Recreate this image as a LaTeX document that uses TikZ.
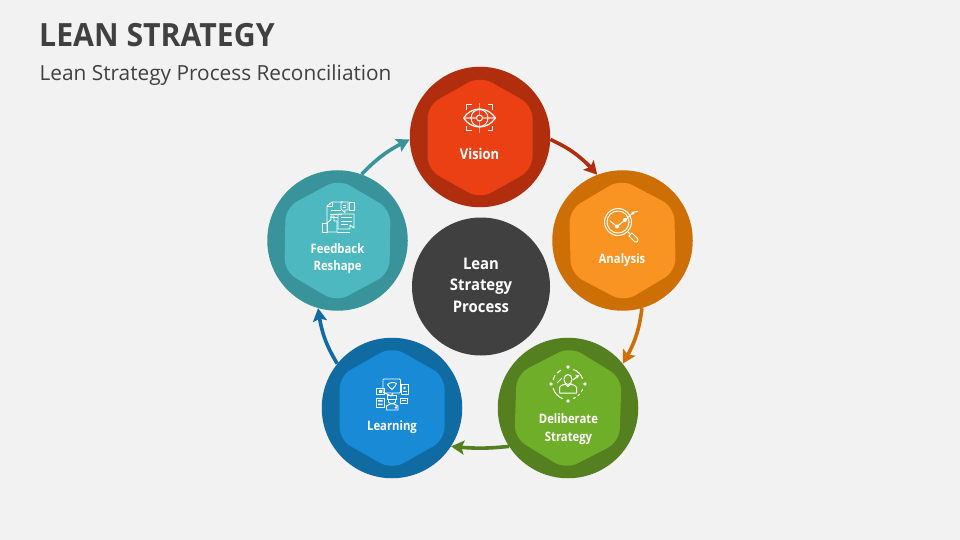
\documentclass[tikz,border=0pt]{standalone}
\usepackage{fontspec}
\setmainfont{Open Sans}
\newfontfamily\labf[FakeStretch=0.87]{Open Sans Bold}
\newfontfamily\corf[FakeStretch=0.93]{Open Sans Bold}
\newfontfamily\titf[FakeStretch=0.945]{Open Sans Bold}
\usetikzlibrary{arrows.meta,bending}
\definecolor{bgc}{HTML}{F2F2F2}
\definecolor{ink}{HTML}{404040}
\definecolor{vo}{HTML}{B02E0E}\definecolor{vi}{HTML}{EB3F14}
\definecolor{ao}{HTML}{CE6F05}\definecolor{ai}{HTML}{F99322}
\definecolor{do}{HTML}{558020}\definecolor{di}{HTML}{6FAE28}
\definecolor{lo}{HTML}{116BA3}\definecolor{li}{HTML}{198BD6}
\definecolor{fo}{HTML}{38939B}\definecolor{fi}{HTML}{4DB8C0}
\tikzset{
  disc/.style={circle,inner sep=0pt,minimum size=140.5pt,draw=none,fill=#1},
  hexa/.style={fill=#1,rounded corners=13pt},
  lab/.style={text=white,font=\fontsize{13}{18}\labf\selectfont,align=center,inner sep=0pt},
  link/.style={line width=3.6pt,draw=#1,-{Stealth[length=13pt,width=14pt,inset=2.5pt,flex]}},
  ico/.style={draw=white,line width=1pt,fill=none,line join=round},
}
\newcommand{\hexshape}[4]{% x y rot colour
  \fill[hexa=#4,shift={(#1,#2)},rotate=#3] (0,-61.5) -- (52.5,-32) -- (52.5,32) -- (0,61.5) -- (-52.5,32) -- (-52.5,-32) -- cycle;}
\begin{document}
\begin{tikzpicture}[x=1pt,y=-1pt]
\fill[bgc] (0,0) rectangle (960,540);
\useasboundingbox (0,0) rectangle (960,540);
\node[anchor=base west,inner sep=0pt,text=ink,font=\fontsize{32}{36}\titf\selectfont] (title) at (39,47) {LEAN STRATEGY};
\node[anchor=base west,inner sep=0pt,text=ink,font=\fontsize{20.8}{24}\selectfont] (sub) at (39.5,81) {Lean Strategy Process Reconciliation};

\node[disc=vo] (vision) at (480,137) {};
\node[disc=ao] (analysis) at (622.5,240.5) {};
\node[disc=do] (deliberate) at (568,408) {};
\node[disc=lo] (learning) at (392,408) {};
\node[disc=fo] (feedback) at (337.5,240.5) {};
\node[circle,inner sep=0pt,minimum size=138pt,fill=ink] (core) at (481,286.5) {};

\hexshape{480}{137.5}{0}{vi}
\hexshape{622.5}{240.5}{1.5}{ai}
\hexshape{568}{408}{-2}{di}
\hexshape{392}{408}{0}{li}
\hexshape{337.5}{240.5}{-1}{fi}

\draw[link=vo] (vision.-2) to[bend left=12] (analysis.111);
\draw[link=ao] (analysis.-74.5) to[bend left=12] (deliberate.39);
\draw[link=do] (deliberate.213.5) to[bend left=6] (learning.-33);
\draw[link=lo] (learning.141) to[bend left=12] (feedback.254.5);
\draw[link=fo] (feedback.70) to[bend left=10] (vision.182);

\node[lab,font=\fontsize{14.8}{18}\labf\selectfont] (tv) at (479.5,154) {Vision};
\node[lab] (ta) at (622,260.5) {Analysis};
\node[lab,font=\fontsize{13}{17.5}\labf\selectfont] (td) at (568.5,429) {Deliberate\\Strategy};
\node[lab] (tl) at (392,427) {Learning};
\node[lab,font=\fontsize{13}{17.5}\labf\selectfont] (tf) at (337.5,258.5) {Feedback\\Reshape};
\node[lab,font=\fontsize{16}{21.5}\corf\selectfont] (tc) at (481,285) {Lean\\Strategy\\Process};

% Vision icon
\begin{scope}[shift={(479.5,118)},ico]
  \draw (-13,-8) -- (-13,-13) -- (-8,-13);
  \draw (8,-13) -- (13,-13) -- (13,-8);
  \draw (-13,8) -- (-13,13) -- (-8,13);
  \draw (8,13) -- (13,13) -- (13,8);
  \draw[line width=1.2pt] (-16,0) .. controls (-8,-12) and (8,-12) .. (16,0) .. controls (8,12) and (-8,12) .. (-16,0) -- cycle;
  \draw (0,0) circle (8.5);
  \draw (0,0) circle (3);
  \draw[draw opacity=.55,line width=1.3pt] (0,-15) -- (0,-3) (0,3) -- (0,15) (-15,0) -- (-3,0) (3,0) -- (15,0);
\end{scope}
% Analysis icon
\begin{scope}[shift={(618,222)},ico]
  \draw (0,0) circle (13.5);
  \draw (0,0) circle (11);
  \draw (-8,-1) -- (-1,4.5) -- (7,-2) -- (15,-9) (16,-10) -- (20,-10.5);
  \fill[white] (-1,4.5) circle (2);
  \fill[white] (7,-2) circle (2);
  \fill[white] (15,-9) circle (1.6);
  \draw (9.5,9.5) -- (12,12);
  \draw (11,14) -- (14,11) -- (20,17) .. controls (21,19) and (19,21) .. (17,20) -- cycle;
\end{scope}
% Deliberate icon
\begin{scope}[shift={(568,384)},ico]
  \draw[dash pattern=on 5pt off 3pt] (195:15.5) arc (195:250:15.5);
  \draw (-70:15.5) arc (-70:-20:15.5);
  \draw[dash pattern=on 3pt off 2.5pt] (20:15.5) arc (20:70:15.5);
  \draw (110:15.5) arc (110:165:15.5);
  \foreach \a/\b in {0/-17,0/17,-17/0,17/0} \fill[white] (\a,\b) circle (1.8);
  \draw (0,-4.5) ellipse (4 and 5);
  \draw (-8.5,9) -- (-8.5,4) .. controls (-8.5,1) and (-4,1) .. (-3,0) -- (0,2.5) -- (3,0) .. controls (4,1) and (8.5,1) .. (8.5,4) -- (8.5,9) -- cycle;
  \draw (-11,-1) -- (-6,-6);
  \draw[-{Stealth[length=3.5pt,width=4pt]}] (5,-4) -- (11,-9);
\end{scope}
% Learning icon
\begin{scope}[shift={(392,393)},ico,line width=.9pt]
  \draw[rounded corners=1pt] (-9,-14) rectangle (8.5,0);
  \draw (-7,0) -- (-1,3) -- (1,0);
  \draw (-4.5,-8.5) .. controls (-2,-11) and (3,-11) .. (4.5,-9.5) .. controls (3,-6) and (1,-5) .. (0,-3.5) .. controls (-2,-5) and (-3,-6) .. (-4.5,-8.5) -- cycle;
  \draw (9.5,-9) rectangle (16,1.5);
  \fill[white] (12.5,-5) circle (1.3);
  \draw (11,-1.5) -- (14.5,-1.5);
  \draw (-15.5,-4.5) rectangle (-8,1.5);
  \fill[white] (-13.5,-3) rectangle (-10,0);
  \draw (-15.5,5) rectangle (-8,14);
  \fill[white] (-14,7) rectangle (-9.5,8.5) (-14,10.5) rectangle (-9.5,12);
  \draw (8,5) rectangle (15.5,10);
  \fill[white] (9.5,6.5) rectangle (14,7.8);
  \draw (-5,2.5) rectangle (4,6.5);
  \draw (-3.5,6.5) -- (-3.5,9) .. controls (-3,11) and (3,11) .. (3.5,9) -- (3.5,6.5);
  \draw (-5.5,17) -- (-5.5,13) -- (-2,11) -- (2,11) -- (6,13) -- (6,17) -- cycle;
  \fill[white] (4,14.5) circle (1.4);
\end{scope}
% Feedback icon
\begin{scope}[shift={(338,217)},ico,line width=.9pt]
  \draw (-11,14) -- (-11,-11) -- (-6,-15) -- (5,-15);
  \draw (-11,-11) -- (-6,-11) -- (-6,-15);
  \draw (-7,-7) -- (3,-7) (-8,-3) -- (4,-3) (-8,0) -- (0,0);
  \draw (3,-15) -- (3,-8) -- (7,-4.5) -- (7,-7) -- (10,-7) -- (10,-15) -- cycle;
  \draw (11,-15) rectangle (16,-7);
  \draw (5,-12) -- (8,-12) (5,-9.5) -- (8,-9.5);
  \draw (0,-3) -- (16,-3) -- (16,11) -- (12,8) -- (12,12) -- (0,12) -- cycle;
  \draw (3,0.5) -- (14,0.5) (3,4) -- (14,4) (3,7.5) -- (10,7.5);
  \draw (-15.5,6) rectangle (-11,15);
  \draw (-11,6) -- (-7,2.5) -- (-7,-1) -- (-4,-1) -- (-4,4) -- (-1,4) -- (-1,15) -- (-11,15);
  \draw (-1,15) -- (12,15);
\end{scope}
\end{tikzpicture}
\end{document}
